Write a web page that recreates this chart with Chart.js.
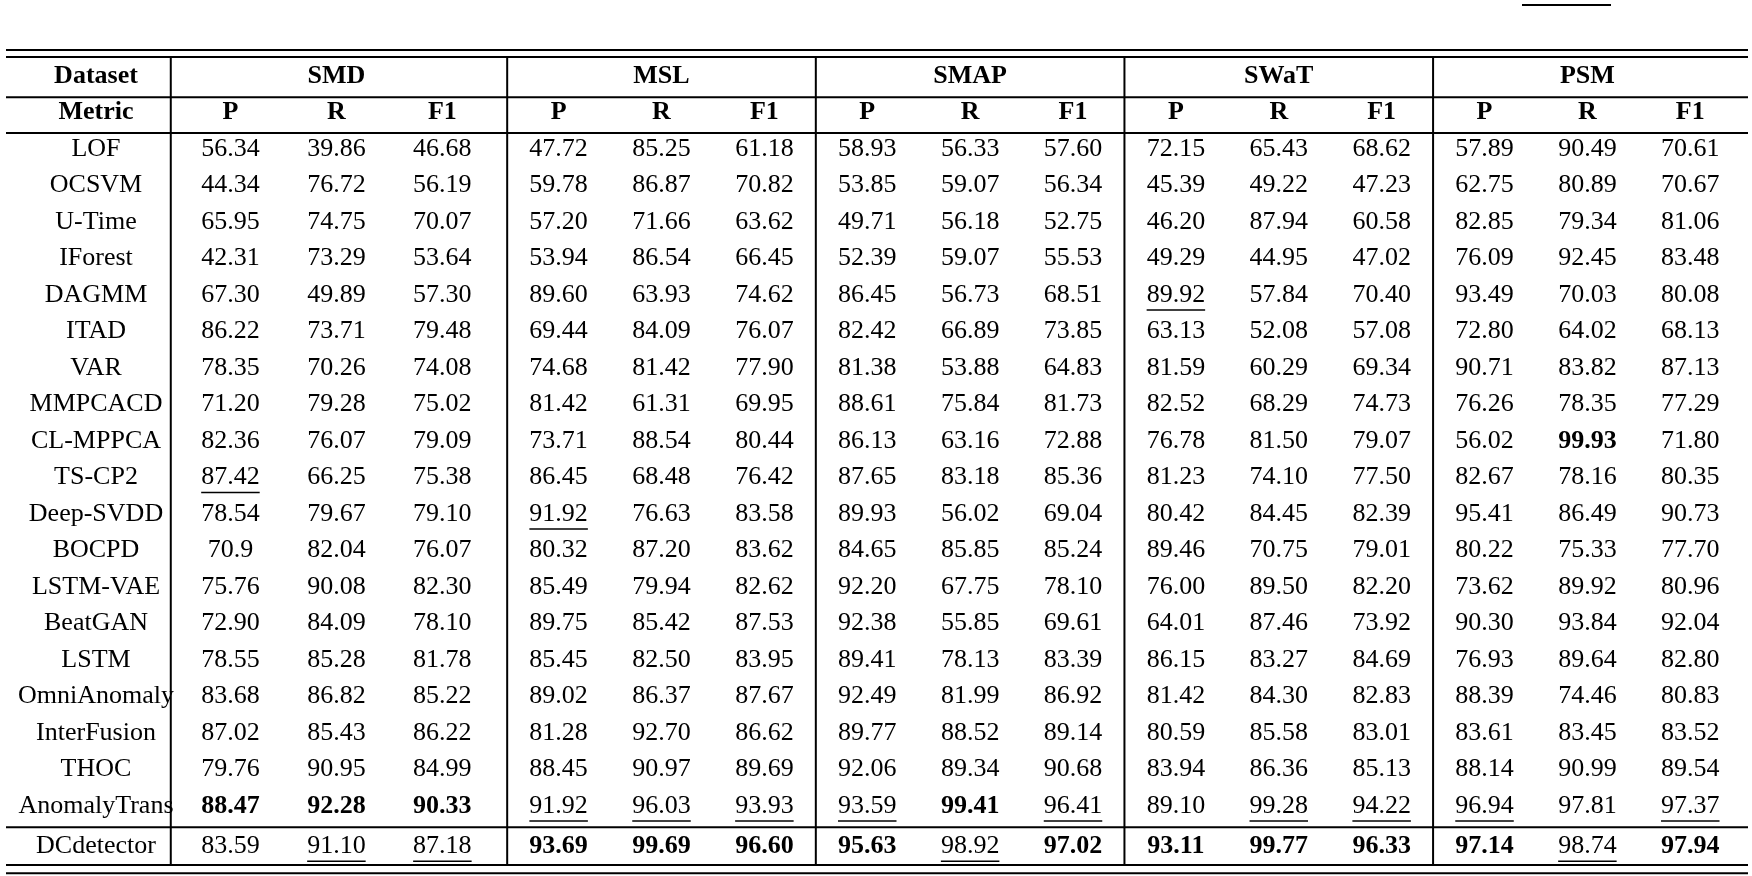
<!DOCTYPE html>
<html>
<head>
<meta charset="utf-8">
<script src="https://cdn.jsdelivr.net/npm/chart.js@4.4.1/dist/chart.umd.min.js"></script>
<style>
  html, body { margin: 0; padding: 0; background: #fff; }
  #wrap { width: 1752px; height: 876px; }
</style>
</head>
<body>
<div id="wrap"><canvas id="tbl"></canvas></div>
<script>
// table content
var datasets = ['SMD', 'MSL', 'SMAP', 'SWaT', 'PSM'];
var metrics = ['P', 'R', 'F1'];
var methods = ['LOF', 'OCSVM', 'U-Time', 'IForest', 'DAGMM', 'ITAD', 'VAR', 'MMPCACD', 'CL-MPPCA',
    'TS-CP2', 'Deep-SVDD', 'BOCPD', 'LSTM-VAE', 'BeatGAN', 'LSTM', 'OmniAnomaly', 'InterFusion',
    'THOC', 'AnomalyTrans', 'DCdetector'];
var values = [
    ['56.34','39.86','46.68','47.72','85.25','61.18','58.93','56.33','57.60','72.15','65.43','68.62','57.89','90.49','70.61'],
    ['44.34','76.72','56.19','59.78','86.87','70.82','53.85','59.07','56.34','45.39','49.22','47.23','62.75','80.89','70.67'],
    ['65.95','74.75','70.07','57.20','71.66','63.62','49.71','56.18','52.75','46.20','87.94','60.58','82.85','79.34','81.06'],
    ['42.31','73.29','53.64','53.94','86.54','66.45','52.39','59.07','55.53','49.29','44.95','47.02','76.09','92.45','83.48'],
    ['67.30','49.89','57.30','89.60','63.93','74.62','86.45','56.73','68.51','89.92','57.84','70.40','93.49','70.03','80.08'],
    ['86.22','73.71','79.48','69.44','84.09','76.07','82.42','66.89','73.85','63.13','52.08','57.08','72.80','64.02','68.13'],
    ['78.35','70.26','74.08','74.68','81.42','77.90','81.38','53.88','64.83','81.59','60.29','69.34','90.71','83.82','87.13'],
    ['71.20','79.28','75.02','81.42','61.31','69.95','88.61','75.84','81.73','82.52','68.29','74.73','76.26','78.35','77.29'],
    ['82.36','76.07','79.09','73.71','88.54','80.44','86.13','63.16','72.88','76.78','81.50','79.07','56.02','99.93','71.80'],
    ['87.42','66.25','75.38','86.45','68.48','76.42','87.65','83.18','85.36','81.23','74.10','77.50','82.67','78.16','80.35'],
    ['78.54','79.67','79.10','91.92','76.63','83.58','89.93','56.02','69.04','80.42','84.45','82.39','95.41','86.49','90.73'],
    ['70.9','82.04','76.07','80.32','87.20','83.62','84.65','85.85','85.24','89.46','70.75','79.01','80.22','75.33','77.70'],
    ['75.76','90.08','82.30','85.49','79.94','82.62','92.20','67.75','78.10','76.00','89.50','82.20','73.62','89.92','80.96'],
    ['72.90','84.09','78.10','89.75','85.42','87.53','92.38','55.85','69.61','64.01','87.46','73.92','90.30','93.84','92.04'],
    ['78.55','85.28','81.78','85.45','82.50','83.95','89.41','78.13','83.39','86.15','83.27','84.69','76.93','89.64','82.80'],
    ['83.68','86.82','85.22','89.02','86.37','87.67','92.49','81.99','86.92','81.42','84.30','82.83','88.39','74.46','80.83'],
    ['87.02','85.43','86.22','81.28','92.70','86.62','89.77','88.52','89.14','80.59','85.58','83.01','83.61','83.45','83.52'],
    ['79.76','90.95','84.99','88.45','90.97','89.69','92.06','89.34','90.68','83.94','86.36','85.13','88.14','90.99','89.54'],
    ['88.47','92.28','90.33','91.92','96.03','93.93','93.59','99.41','96.41','89.10','99.28','94.22','96.94','97.81','97.37'],
    ['83.59','91.10','87.18','93.69','99.69','96.60','95.63','98.92','97.02','93.11','99.77','96.33','97.14','98.74','97.94']
];
// b = best (bold), u = second best (underline)
var marks = [
    '...............', '...............', '...............', '...............',
    '.........u.....', '...............', '...............', '...............',
    '.............b.', 'u..............', '...u...........', '...............',
    '...............', '...............', '...............', '...............',
    '...............', '...............', 'bbbuuuubu.uuu.u',
    '.uubbbbubbbbbub'
];

var FONT = "'Liberation Serif', 'DejaVu Serif', serif";

var cells = [];
values.forEach((row, r) => row.forEach((v, c) => cells.push({x: c + 1 + (c < 3 ? (c - 3) * 0.03 : 0.1), y: r === 19 ? 19.1 : r, r: r, c: c})));

var tablePlugin = {
    id: 'tablePlugin',
    afterDatasetsDraw: (chart) => {
        var ctx = chart.ctx, xs = chart.scales.x, ys = chart.scales.y;
        var X = v => xs.getPixelForValue(v), Y = v => ys.getPixelForValue(v);
        ctx.save();
        ctx.strokeStyle = '#000';
        ctx.lineWidth = 2;
        var hline = (y) => { ctx.beginPath(); ctx.moveTo(6, Y(y)); ctx.lineTo(1748, Y(y)); ctx.stroke(); };
        [-2.71, -2.52, -1.42, -0.44, 18.58, 19.62, 19.84].forEach(hline);
        [0.33, 3.6, 6.6, 9.6, 12.6].forEach(x => {
            ctx.beginPath(); ctx.moveTo(X(x), Y(-2.52)); ctx.lineTo(X(x), Y(19.62)); ctx.stroke();
        });
        // cropped caption underline at top
        ctx.beginPath(); ctx.moveTo(1522, 5); ctx.lineTo(1611, 5); ctx.stroke();

        ctx.fillStyle = '#000';
        ctx.textAlign = 'center';
        ctx.textBaseline = 'middle';
        var put = (txt, x, y, bold, under) => {
            ctx.font = (bold ? 'bold ' : '') + '26px ' + FONT;
            ctx.fillText(txt, x, y);
            if (under) {
                var w = ctx.measureText(txt).width;
                ctx.lineWidth = 1.5;
                ctx.beginPath(); ctx.moveTo(x - w / 2, y + 15); ctx.lineTo(x + w / 2, y + 15); ctx.stroke();
                ctx.lineWidth = 2;
            }
        };
        put('Dataset', 96, Y(-2), true);
        put('Metric', 96, Y(-1), true);
        var colX = c => c + 1 + (c < 3 ? (c - 3) * 0.03 : 0.1);
        datasets.forEach((d, i) => {
            put(d, X(colX(i * 3 + 1)), Y(-2), true);
            metrics.forEach((m, j) => put(m, X(colX(i * 3 + j)), Y(-1), true));
        });
        methods.forEach((m, r) => put(m, 96, Y(r === 19 ? 19.1 : r), false));
        cells.forEach(p => {
            var mk = marks[p.r][p.c];
            put(values[p.r][p.c], X(p.x), Y(p.y), mk === 'b', mk === 'u');
        });
        ctx.restore();
    }
};

new Chart(document.getElementById('tbl'), {
    type: 'scatter',
    data: {
        datasets: [{
            data: cells,
            pointRadius: 0,
            pointHoverRadius: 0
        }]
    },
    options: {
        responsive: true,
        maintainAspectRatio: false,
        animation: false,
        layout: { padding: 0 },
        scales: {
            x: { type: 'linear', display: false, min: -1.33, max: 15.7 },
            y: { type: 'linear', display: false, reverse: true, min: -4.082, max: 19.918 }
        },
        plugins: {
            legend: { display: false },
            tooltip: { enabled: false }
        }
    },
    plugins: [tablePlugin]
});
</script>
</body>
</html>
